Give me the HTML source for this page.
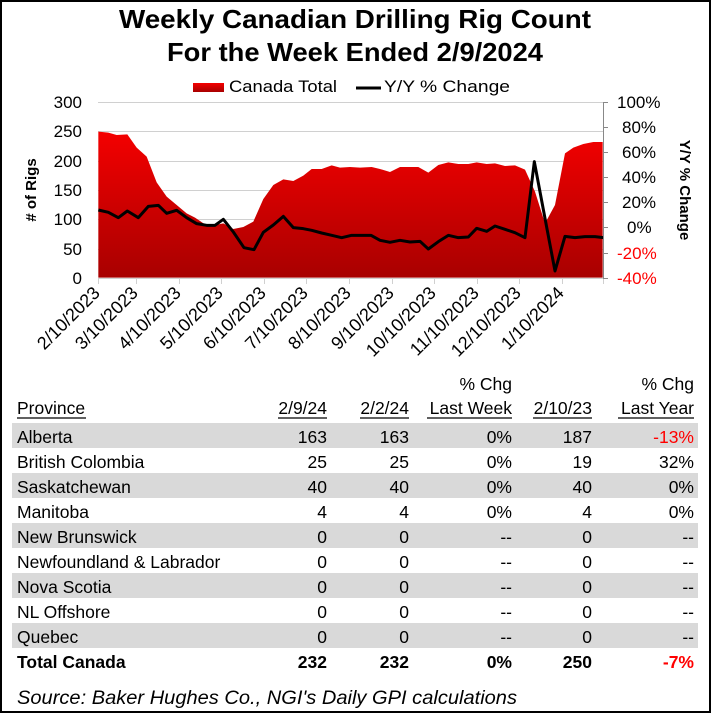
<!DOCTYPE html>
<html><head><style>
html,body{margin:0;padding:0;background:#fff}
svg{display:block;font-family:"Liberation Sans",Arial,sans-serif}
</style></head><body>
<svg width="711" height="713" viewBox="0 0 711 713" xmlns="http://www.w3.org/2000/svg">
<defs>
<linearGradient id="g" x1="0" y1="0" x2="0" y2="1">
<stop offset="0" stop-color="#f40000"/><stop offset="1" stop-color="#a80000"/>
</linearGradient>
</defs>
<rect x="1" y="1" width="709" height="711" fill="#fff" stroke="#000" stroke-width="2"/>
<text x="355" y="28" font-size="26" font-weight="bold" text-anchor="middle" textLength="472" lengthAdjust="spacingAndGlyphs">Weekly Canadian Drilling Rig Count</text>
<text x="355" y="61" font-size="26" font-weight="bold" text-anchor="middle" textLength="376" lengthAdjust="spacingAndGlyphs">For the Week Ended 2/9/2024</text>
<rect x="193" y="83" width="31" height="9" fill="url(#g)"/>
<text x="229" y="92" font-size="17" textLength="108" lengthAdjust="spacingAndGlyphs">Canada Total</text>
<line x1="356" y1="88" x2="381" y2="88" stroke="#000" stroke-width="3"/>
<text x="384" y="92" font-size="17" textLength="126" lengthAdjust="spacingAndGlyphs">Y/Y % Change</text>
<g stroke="#d0d0d0" stroke-width="1">
<line x1="98" y1="102.5" x2="603" y2="102.5"/><line x1="98" y1="131.5" x2="603" y2="131.5"/>
<line x1="98" y1="161.5" x2="603" y2="161.5"/><line x1="98" y1="190.5" x2="603" y2="190.5"/>
<line x1="98" y1="219.5" x2="603" y2="219.5"/><line x1="98" y1="249.5" x2="603" y2="249.5"/>
<line x1="98" y1="278.5" x2="603" y2="278.5"/>
</g>
<g transform="translate(90,95) scale(0.33333)">
<path fill="url(#g)" d="M25,548 L25,110 55,113 80,120 112,118 140,158 170,185 200,262 230,305 260,330 290,355 315,368 345,388 375,390 400,385 430,402 460,396 490,380 520,312 550,270 580,253 610,258 640,242 665,222 695,222 725,211 750,218 780,216 810,218 845,216 870,222 900,231 930,216 960,216 985,216 1015,233 1045,210 1075,202 1105,207 1135,207 1160,202 1190,207 1215,205 1245,213 1275,211 1305,224 1335,290 1365,385 1395,330 1425,175 1450,158 1480,147 1510,141 1538,141 L1538,548 Z"/>
<polyline fill="none" stroke="#000" stroke-width="9" stroke-linejoin="round" points="25,345 55,352 85,368 112,348 145,368 175,334 205,331 230,355 260,346 290,368 320,386 350,391 375,391 400,373 430,411 462,458 492,464 520,412 550,390 580,364 610,398 640,401 665,406 695,414 725,421 755,428 785,421 815,421 843,421 870,436 900,442 930,436 960,441 990,439 1015,462 1045,440 1075,421 1105,428 1135,426 1160,400 1190,409 1215,393 1245,403 1275,413 1305,428 1333,200 1365,370 1395,528 1425,424 1455,428 1485,425 1515,425 1540,428"/>
</g>
<g stroke="#d0d0d0"><line x1="98" y1="278.5" x2="603" y2="278.5"/>
<line x1="98.5" y1="278" x2="98.5" y2="284"/><line x1="136.5" y1="278" x2="136.5" y2="284"/><line x1="179.5" y1="278" x2="179.5" y2="284"/><line x1="221.5" y1="278" x2="221.5" y2="284"/><line x1="264.5" y1="278" x2="264.5" y2="284"/><line x1="306.5" y1="278" x2="306.5" y2="284"/><line x1="349.5" y1="278" x2="349.5" y2="284"/><line x1="392.5" y1="278" x2="392.5" y2="284"/><line x1="434.5" y1="278" x2="434.5" y2="284"/><line x1="477.5" y1="278" x2="477.5" y2="284"/><line x1="519.5" y1="278" x2="519.5" y2="284"/><line x1="562.5" y1="278" x2="562.5" y2="284"/><line x1="603.5" y1="278" x2="603.5" y2="284"/>
</g>
<g stroke="#888"><line x1="603.5" y1="102" x2="603.5" y2="279"/>
<line x1="603" y1="102.5" x2="608" y2="102.5"/><line x1="603" y1="127.5" x2="608" y2="127.5"/><line x1="603" y1="152.5" x2="608" y2="152.5"/><line x1="603" y1="177.5" x2="608" y2="177.5"/><line x1="603" y1="202.5" x2="608" y2="202.5"/><line x1="603" y1="227.5" x2="608" y2="227.5"/><line x1="603" y1="253.5" x2="608" y2="253.5"/><line x1="603" y1="278.5" x2="608" y2="278.5"/></g>
<g font-size="17" text-anchor="end">
<text x="82" y="108">300</text><text x="82" y="137">250</text><text x="82" y="167">200</text><text x="82" y="196">150</text><text x="82" y="225">100</text><text x="82" y="255">50</text><text x="82" y="284">0</text>
</g>
<g font-size="17">
<text x="617" y="108">100%</text><text x="622" y="133">80%</text><text x="622" y="158">60%</text><text x="622" y="183">40%</text><text x="622" y="208">20%</text><text x="627" y="233">0%</text>
<text x="617" y="259" fill="#f00">-20%</text><text x="617" y="284" fill="#f00">-40%</text>
</g>
<text transform="translate(36,190) rotate(-90)" font-size="15" font-weight="bold" text-anchor="middle"># of Rigs</text>
<text transform="translate(680,190) rotate(90)" font-size="15" font-weight="bold" text-anchor="middle">Y/Y % Change</text>
<g font-size="18" text-anchor="end">
<text transform="translate(101,294) rotate(-45)">2/10/2023</text>
<text transform="translate(139,294) rotate(-45)">3/10/2023</text>
<text transform="translate(182,294) rotate(-45)">4/10/2023</text>
<text transform="translate(224,294) rotate(-45)">5/10/2023</text>
<text transform="translate(267,294) rotate(-45)">6/10/2023</text>
<text transform="translate(309,294) rotate(-45)">7/10/2023</text>
<text transform="translate(352,294) rotate(-45)">8/10/2023</text>
<text transform="translate(395,294) rotate(-45)">9/10/2023</text>
<text transform="translate(437,294) rotate(-45)">10/10/2023</text>
<text transform="translate(480,294) rotate(-45)">11/10/2023</text>
<text transform="translate(522,294) rotate(-45)">12/10/2023</text>
<text transform="translate(565,294) rotate(-45)">1/10/2024</text>
</g>
<g fill="#d9d9d9">
<rect x="12" y="423" width="686" height="25"/><rect x="12" y="473" width="686" height="25"/><rect x="12" y="523" width="686" height="25"/><rect x="12" y="573" width="686" height="25"/><rect x="12" y="623" width="686" height="25"/>
</g>
<g font-size="17.5">
<text x="17" y="414">Province</text>
<g text-anchor="end">
<text x="512" y="390">% Chg</text><text x="694" y="390">% Chg</text>
<text x="327" y="414">2/9/24</text><text x="409" y="414">2/2/24</text><text x="512" y="414">Last Week</text><text x="592" y="414">2/10/23</text><text x="694" y="414">Last Year</text>
</g>
</g>
<g stroke="#000" stroke-width="1.2">
<line x1="17" y1="418" x2="86" y2="418"/><line x1="278" y1="418" x2="327" y2="418"/><line x1="360" y1="418" x2="409" y2="418"/><line x1="427" y1="418" x2="512" y2="418"/><line x1="533" y1="418" x2="592" y2="418"/><line x1="618" y1="418" x2="694" y2="418"/>
</g>
<g font-size="17.5">
<text x="17" y="443">Alberta</text><text x="17" y="468">British Colombia</text><text x="17" y="493">Saskatchewan</text><text x="17" y="518">Manitoba</text><text x="17" y="543">New Brunswick</text><text x="17" y="568">Newfoundland &amp; Labrador</text><text x="17" y="593">Nova Scotia</text><text x="17" y="618">NL Offshore</text><text x="17" y="643">Quebec</text>
<g text-anchor="end">
<text x="327" y="443">163</text><text x="409" y="443">163</text><text x="512" y="443">0%</text><text x="592" y="443">187</text><text x="694" y="443" fill="#f00">-13%</text>
<text x="327" y="468">25</text><text x="409" y="468">25</text><text x="512" y="468">0%</text><text x="592" y="468">19</text><text x="694" y="468">32%</text>
<text x="327" y="493">40</text><text x="409" y="493">40</text><text x="512" y="493">0%</text><text x="592" y="493">40</text><text x="694" y="493">0%</text>
<text x="327" y="518">4</text><text x="409" y="518">4</text><text x="512" y="518">0%</text><text x="592" y="518">4</text><text x="694" y="518">0%</text>
<text x="327" y="543">0</text><text x="409" y="543">0</text><text x="512" y="543">--</text><text x="592" y="543">0</text><text x="694" y="543">--</text>
<text x="327" y="568">0</text><text x="409" y="568">0</text><text x="512" y="568">--</text><text x="592" y="568">0</text><text x="694" y="568">--</text>
<text x="327" y="593">0</text><text x="409" y="593">0</text><text x="512" y="593">--</text><text x="592" y="593">0</text><text x="694" y="593">--</text>
<text x="327" y="618">0</text><text x="409" y="618">0</text><text x="512" y="618">--</text><text x="592" y="618">0</text><text x="694" y="618">--</text>
<text x="327" y="643">0</text><text x="409" y="643">0</text><text x="512" y="643">--</text><text x="592" y="643">0</text><text x="694" y="643">--</text>
</g>
<g font-weight="bold">
<text x="17" y="668">Total Canada</text>
<g text-anchor="end"><text x="327" y="668">232</text><text x="409" y="668">232</text><text x="512" y="668">0%</text><text x="592" y="668">250</text><text x="694" y="668" fill="#f00">-7%</text></g>
</g>
<text x="17" y="704" font-style="italic" font-size="19" textLength="500" lengthAdjust="spacingAndGlyphs">Source: Baker Hughes Co., NGI's Daily GPI calculations</text>
</g>
</svg>
</body></html>
